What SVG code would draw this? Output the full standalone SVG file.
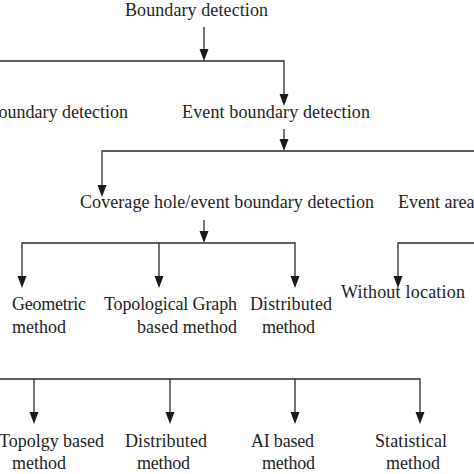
<svg xmlns="http://www.w3.org/2000/svg" width="474" height="474" viewBox="0 0 474 474" font-family="'Liberation Serif', 'DejaVu Serif', serif">
<defs>
<style>
text{font-family:"Liberation Serif","DejaVu Serif",serif;font-size:18px;fill:#1e1e1e}
.c{fill:none;stroke:#2a2a2a;stroke-width:1.3}
.h{fill:#1a1a1a}
</style>
</defs>
<rect width="474" height="474" fill="#fff"/>
<g id="connectors">
<path class="c" d="M204,27 V49"/><path class="h" d="M199.5,49 H208.5 L204,61 Z"/>
<path class="c" d="M0,61 H284 V94"/><path class="h" d="M279.5,94 H288.5 L284,106 Z"/>
<path class="c" d="M284,129 V139"/><path class="h" d="M279.5,139 H288.5 L284,151 Z"/>
<path class="c" d="M102,185 V151 H474"/><path class="h" d="M97.5,185 H106.5 L102,197 Z"/>
<path class="c" d="M204,220 V231"/><path class="h" d="M199.5,231 H208.5 L204,243 Z"/>
<path class="c" d="M22,276 V243 H295 V276 M159,243 V276"/>
<path class="h" d="M17.5,276 H26.5 L22,288 Z"/>
<path class="h" d="M154.5,276 H163.5 L159,288 Z"/>
<path class="h" d="M290.5,276 H299.5 L295,288 Z"/>
<path class="c" d="M398,276 V243 H474"/><path class="h" d="M393.5,276 H402.5 L398,288 Z"/>
<path class="c" d="M0,379 H420 V412 M34,379 V412 M170,379 V412 M295,379 V412"/>
<path class="h" d="M29.5,412 H38.5 L34,424 Z"/>
<path class="h" d="M165.5,412 H174.5 L170,424 Z"/>
<path class="h" d="M290.5,412 H299.5 L295,424 Z"/>
<path class="h" d="M415.5,412 H424.5 L420,424 Z"/>
</g>
<g id="n-root"><text x="125" y="16" textLength="143">Boundary detection</text></g>
<g id="n-left"><text x="128" y="118" text-anchor="end">boundary detection</text></g>
<g id="n-event"><text x="182" y="118" textLength="188">Event boundary detection</text></g>
<g id="n-coverage"><text x="80" y="208" textLength="294">Coverage hole/event boundary detection</text></g>
<g id="n-area"><text x="398" y="208">Event area detection</text></g>
<g id="n-geometric"><text x="12" y="310" textLength="74">Geometric</text><text x="12" y="332.5" textLength="54">method</text></g>
<g id="n-topograph"><text x="104" y="310" textLength="133">Topological Graph</text><text x="137" y="332.5" textLength="100">based method</text></g>
<g id="n-dist1"><text x="250" y="310" textLength="82">Distributed</text><text x="262" y="332.5" textLength="53">method</text></g>
<g id="n-without"><text x="341" y="298" textLength="124">Without location</text></g>
<g id="n-topolgy"><text x="-1" y="446.5" textLength="105">Topolgy based</text><text x="12" y="469" textLength="54">method</text></g>
<g id="n-dist2"><text x="125" y="446.5" textLength="82">Distributed</text><text x="137" y="469" textLength="53">method</text></g>
<g id="n-ai"><text x="251" y="446.5" textLength="63">AI based</text><text x="262" y="469" textLength="53">method</text></g>
<g id="n-stat"><text x="375" y="446.5" textLength="72">Statistical</text><text x="386" y="469" textLength="54">method</text></g>
</svg>
